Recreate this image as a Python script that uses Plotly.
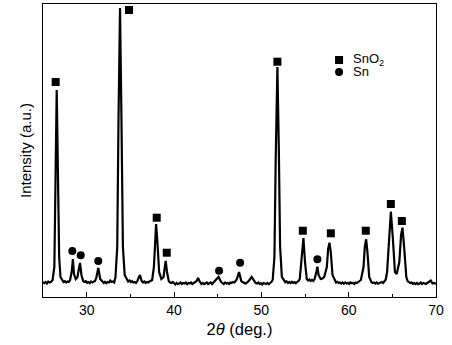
import plotly.graph_objects as go

# XRD pattern: 2-theta (deg.) and intensity (a.u.)
two_theta = [
    25.0, 25.15, 25.3, 25.45, 25.6, 25.75, 25.9, 26.1, 26.3, 26.45, 26.57, 26.7, 26.85, 27.0,
    27.2, 27.35, 27.5, 27.65, 27.8, 27.95, 28.1, 28.3, 28.42, 28.55, 28.75, 28.95, 29.1, 29.24,
    29.4, 29.6, 29.75, 29.9, 30.05, 30.2, 30.35, 30.5, 30.65, 30.8, 30.95, 31.1, 31.33, 31.55,
    31.8, 31.95, 32.1, 32.25, 32.4, 32.55, 32.7, 32.85, 33.0, 33.15, 33.3, 33.5, 33.65, 33.82,
    33.98, 34.15, 34.35, 34.6, 34.75, 34.9, 35.05, 35.2, 35.35, 35.5, 35.65, 35.8, 36.1, 36.3,
    36.45, 36.6, 36.75, 36.9, 37.05, 37.2, 37.35, 37.5, 37.7, 37.85, 37.95, 38.1, 38.3, 38.55,
    38.8, 38.95, 39.05, 39.2, 39.4, 39.55, 39.7, 39.85, 40.0, 40.15, 40.3, 40.45, 40.6, 40.75,
    40.9, 41.05, 41.2, 41.35, 41.5, 41.65, 41.8, 41.95, 42.1, 42.25, 42.4, 42.6, 42.75, 42.9,
    43.0, 43.15, 43.3, 43.45, 43.6, 43.75, 43.9, 44.05, 44.2, 44.35, 44.5, 44.65, 44.8, 45.1,
    45.4, 45.55, 45.7, 45.85, 46.0, 46.15, 46.3, 46.45, 46.6, 46.75, 46.9, 47.05, 47.2, 47.45,
    47.7, 47.85, 48.0, 48.15, 48.3, 48.45, 48.6, 48.9, 49.2, 49.35, 49.5, 49.65, 49.8, 49.95,
    50.1, 50.25, 50.4, 50.55, 50.7, 50.85, 51.0, 51.15, 51.3, 51.5, 51.65, 51.84, 52.0, 52.15,
    52.35, 52.6, 52.75, 52.9, 53.05, 53.2, 53.35, 53.5, 53.65, 53.8, 53.95, 54.1, 54.25, 54.4,
    54.6, 54.82, 55.0, 55.2, 55.35, 55.5, 55.65, 55.8, 55.95, 56.1, 56.3, 56.42, 56.55, 56.8,
    57.0, 57.2, 57.5, 57.65, 57.8, 57.95, 58.15, 58.4, 58.55, 58.7, 58.85, 59.0, 59.15, 59.3,
    59.45, 59.6, 59.75, 59.9, 60.05, 60.2, 60.35, 60.5, 60.65, 60.8, 60.95, 61.1, 61.25, 61.4,
    61.7, 61.85, 62.0, 62.15, 62.35, 62.6, 62.75, 62.9, 63.05, 63.2, 63.35, 63.5, 63.65, 63.8,
    63.95, 64.1, 64.25, 64.4, 64.6, 64.83, 65.05, 65.3, 65.5, 65.8, 66.0, 66.16, 66.35, 66.6,
    66.75, 66.9, 67.05, 67.2, 67.35, 67.5, 67.65, 67.8, 67.95, 68.1, 68.25, 68.4, 68.55, 68.7,
    68.85, 69.0, 69.2, 69.4, 69.6, 69.8, 70.0,
]
intensity = [
    150, 140, 150, 135, 155, 145, 150, 170, 300, 1200, 2070, 1300, 400, 200,
    165, 150, 158, 145, 155, 150, 170, 260, 380, 230, 180, 200, 280, 340,
    220, 160, 150, 158, 142, 150, 138, 155, 145, 150, 160, 190, 290, 180,
    150, 140, 152, 138, 150, 145, 165, 150, 155, 145, 200, 500, 1800, 2890,
    1800, 500, 220, 170, 155, 165, 150, 158, 145, 150, 140, 160, 220, 160,
    145, 155, 140, 150, 145, 155, 160, 170, 300, 600, 730, 550, 250, 180,
    200, 300, 360, 250, 160, 145, 140, 150, 135, 125, 140, 130, 135, 145,
    130, 140, 135, 145, 128, 140, 135, 145, 130, 140, 145, 160, 190, 150,
    145, 130, 140, 128, 140, 145, 130, 140, 145, 130, 145, 150, 165, 200,
    150, 140, 130, 145, 135, 140, 130, 145, 140, 150, 145, 160, 180, 250,
    160, 150, 145, 135, 140, 150, 165, 200, 150, 140, 135, 145, 130, 138,
    125, 140, 135, 130, 140, 128, 140, 150, 170, 400, 1400, 2300, 1500, 500,
    200, 160, 148, 155, 140, 150, 140, 152, 140, 148, 138, 150, 160, 180,
    350, 590, 350, 180, 165, 175, 160, 170, 160, 180, 250, 303, 220, 180,
    185, 200, 300, 480, 543, 450, 220, 160, 145, 152, 140, 145, 135, 145,
    132, 145, 135, 142, 130, 145, 138, 140, 130, 145, 140, 150, 160, 170,
    300, 500, 577, 450, 200, 150, 140, 145, 135, 145, 132, 140, 145, 150,
    140, 160, 175, 250, 600, 853, 600, 250, 230, 350, 620, 693, 500, 200,
    160, 150, 140, 145, 132, 140, 130, 140, 128, 135, 145, 130, 140, 135,
    130, 140, 150, 165, 135, 140, 130,
]

# Phase identification marks placed above the indexed reflections
sno2_theta = [26.45, 34.85, 38.02, 39.17, 51.84, 54.75, 57.96, 61.96, 64.83, 66.09]
sno2_mark = [2150, 2870, 793, 443, 2353, 663, 637, 663, 930, 760]
sn_theta = [28.36, 29.32, 31.33, 45.16, 47.57, 56.42]
sn_mark = [460, 417, 360, 263, 343, 377]

x_ticks = [30, 40, 50, 60, 70]
legend_labels = ["SnO<sub>2</sub>", "Sn"]

font_family = "Liberation Sans, Arial, sans-serif"

fig = go.Figure()
fig.add_trace(go.Scatter(
    x=two_theta, y=intensity, mode="lines",
    line=dict(color="black", width=2.2), showlegend=False, hoverinfo="skip",
))
fig.add_trace(go.Scatter(
    x=sno2_theta, y=sno2_mark, mode="markers",
    marker=dict(symbol="square", size=8, color="black"), showlegend=False,
))
fig.add_trace(go.Scatter(
    x=sn_theta, y=sn_mark, mode="markers",
    marker=dict(symbol="circle", size=8, color="black"), showlegend=False,
))

# Hand-placed key in the upper right of the plot
key_x, key_y, key_dy = 58.9, 2370, 120
shapes = [
    dict(type="rect", xref="x", yref="y", xsizemode="pixel", ysizemode="pixel",
         xanchor=key_x, yanchor=key_y, x0=-4, x1=4, y0=-4, y1=4,
         fillcolor="black", line=dict(width=0)),
    dict(type="circle", xref="x", yref="y", xsizemode="pixel", ysizemode="pixel",
         xanchor=key_x, yanchor=key_y - key_dy, x0=-4, x1=4, y0=-4, y1=4,
         fillcolor="black", line=dict(width=0)),
]
annotations = [
    dict(x=key_x, y=key_y - i * key_dy, xref="x", yref="y", text=lab,
         showarrow=False, xanchor="left", xshift=12, yshift=1,
         font=dict(family=font_family, size=13, color="black"))
    for i, lab in enumerate(legend_labels)
]

fig.update_layout(
    width=452, height=345,
    margin=dict(l=43, r=16, t=4, b=48),
    paper_bgcolor="white", plot_bgcolor="white",
    font=dict(family=font_family, size=13, color="black"),
    shapes=shapes, annotations=annotations,
    xaxis=dict(
        range=[25, 70], tickvals=x_ticks, ticks="inside", ticklen=5, tickwidth=1,
        tickcolor="black", showline=True, linecolor="black", linewidth=1, mirror=True,
        showgrid=False, zeroline=False,
        minor=dict(dtick=5, tick0=25, ticks="inside", ticklen=3, tickcolor="black", showgrid=False),
        tickfont=dict(size=14),
        title=dict(text="2<i>θ</i> (deg.)", font=dict(size=16.5), standoff=6),
    ),
    yaxis=dict(
        range=[0, 2930], showticklabels=False, ticks="", showline=True,
        linecolor="black", linewidth=1, mirror=True, showgrid=False, zeroline=False,
        title=dict(text="Intensity (a.u.)", font=dict(size=15), standoff=6),
    ),
)

fig.write_html("out.html")
